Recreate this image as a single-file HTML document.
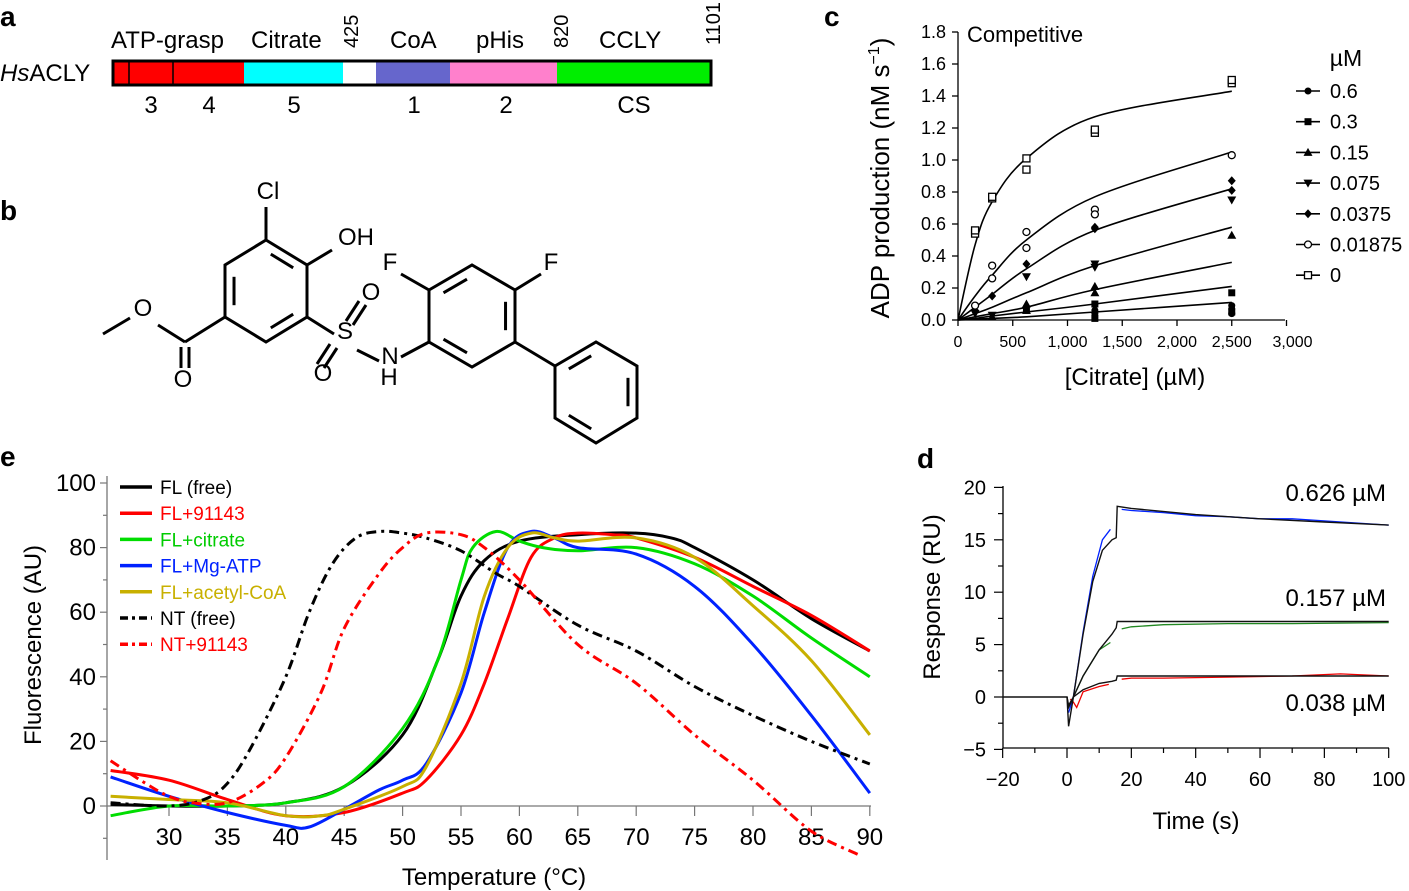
<!DOCTYPE html>
<html><head><meta charset="utf-8"><style>
html,body{margin:0;padding:0;background:#fff}
svg{display:block;font-family:"Liberation Sans",Arial,sans-serif}
</style></head><body>
<svg id="fig" width="1409" height="891" viewBox="0 0 1409 891" xmlns="http://www.w3.org/2000/svg">
<g font-weight="bold" font-size="28">
<text x="0" y="26">a</text>
<text x="0" y="220">b</text>
<text x="824" y="26">c</text>
<text x="0" y="466">e</text>
<text x="917" y="468">d</text>
</g>
<g id="pa" font-size="24">
<text x="0" y="81"><tspan font-style="italic">Hs</tspan>ACLY</text>
<rect x="113" y="61" width="131" height="24" fill="#ff0000"/>
<rect x="244" y="61" width="99" height="24" fill="#00ffff"/>
<rect x="343" y="61" width="33" height="24" fill="#ffffff"/>
<rect x="376" y="61" width="74" height="24" fill="#6666cc"/>
<rect x="450" y="61" width="107" height="24" fill="#ff80cc"/>
<rect x="557" y="61" width="154" height="24" fill="#00ee00"/>
<line x1="129" y1="61" x2="129" y2="85" stroke="#000" stroke-width="1.5"/>
<line x1="173" y1="61" x2="173" y2="85" stroke="#000" stroke-width="1.5"/>
<rect x="113" y="61" width="598" height="24" fill="none" stroke="#000" stroke-width="3"/>
<text x="111" y="48">ATP-grasp</text>
<text x="251" y="48">Citrate</text>
<text x="390" y="48">CoA</text>
<text x="476" y="48">pHis</text>
<text x="599" y="48">CCLY</text>
<text transform="translate(358,48) rotate(-90)" font-size="20">425</text>
<text transform="translate(568,48) rotate(-90)" font-size="20">820</text>
<text transform="translate(720,45) rotate(-90)" font-size="20">1101</text>
<g text-anchor="middle">
<text x="151" y="113">3</text>
<text x="209" y="113">4</text>
<text x="294" y="113">5</text>
<text x="414" y="113">1</text>
<text x="506" y="113">2</text>
<text x="634" y="113">CS</text>
</g>
</g>
<g id="pb" stroke="#000" stroke-width="3" fill="none"></g>
<g id="pbt" font-size="24" text-anchor="middle">
<text x="268" y="199">Cl</text>
<text x="356" y="245">OH</text>
<text x="143" y="316">O</text>
<text x="183" y="387">O</text>
<text x="345" y="339">S</text>
<text x="371" y="300">O</text>
<text x="323" y="381">O</text>
<text x="390" y="364">N</text>
<text x="389" y="385">H</text>
<text x="390" y="270">F</text>
<text x="551" y="270">F</text>
</g>
<g id="pc"></g>
<g id="pd"></g>
<g id="pe"></g>
</svg>
<script>
const NS='http://www.w3.org/2000/svg';
function mk(parent,tag,attrs,txt){const e=document.createElementNS(NS,tag);for(const k in attrs)e.setAttribute(k,attrs[k]);if(txt!==undefined)e.textContent=txt;parent.appendChild(e);return e;}
function smooth(pts){let d='M'+pts[0][0].toFixed(1)+','+pts[0][1].toFixed(1);for(let i=0;i<pts.length-1;i++){const p0=pts[Math.max(0,i-1)],p1=pts[i],p2=pts[i+1],p3=pts[Math.min(pts.length-1,i+2)];const c1=[p1[0]+(p2[0]-p0[0])/6,p1[1]+(p2[1]-p0[1])/6],c2=[p2[0]-(p3[0]-p1[0])/6,p2[1]-(p3[1]-p1[1])/6];d+='C'+c1[0].toFixed(1)+','+c1[1].toFixed(1)+' '+c2[0].toFixed(1)+','+c2[1].toFixed(1)+' '+p2[0].toFixed(1)+','+p2[1].toFixed(1);}return d;}
function poly(pts){return 'M'+pts.map(p=>p[0].toFixed(1)+','+p[1].toFixed(1)).join('L');}

/* ---------- panel b structure ---------- */
const gb=document.getElementById('pb');
function ring(pts,dbl){const cx=pts.reduce((s,p)=>s+p[0],0)/6,cy=pts.reduce((s,p)=>s+p[1],0)/6;
 const r=mk(gb,'path',{d:poly(pts)+'Z'});
 
 
 dbl.forEach(i=>{const a=pts[i],b=pts[(i+1)%6];const f=0.78;const A=[cx+(a[0]-cx)*f,cy+(a[1]-cy)*f],B=[cx+(b[0]-cx)*f,cy+(b[1]-cy)*f];const s=0.15;
  const l=mk(gb,'line',{x1:A[0]+(B[0]-A[0])*s,y1:A[1]+(B[1]-A[1])*s,x2:B[0]-(B[0]-A[0])*s,y2:B[1]-(B[1]-A[1])*s});
  
  });}
ring([[266,240],[307,265],[307,317],[266,342],[225,317],[225,265]],[0,2,4]);
ring([[429,290],[472,265],[515,290],[515,342],[472,367],[429,342]],[0,2,4]);
ring([[555,366],[596,342],[637,366],[637,418],[596,443],[555,418]],[0,2,4]);
[[266,240,266,207],[307,265,332,250],[225,317,185,342],[185,342,158,325],[130,318,103,334],[307,317,334,334],[357,350,379,361],[401,357,429,342],[429,290,401,274],[515,290,541,274],[515,342,555,366],
 [181,347,181,368],[189,347,189,368],[346,321,359,301],[353,325,366,305],[330,344,317,364],[337,348,324,368]].forEach(b=>{
 const l=mk(gb,'line',{x1:b[0],y1:b[1],x2:b[2],y2:b[3]});
 
 });

/* ---------- panel c ---------- */
const cConc=[0,156,312,625,1250,2500];
const cLabels=['0.6','0.3','0.15','0.075','0.0375','0.01875','0'];
const cFit06=[0,0.005,0.01,0.02,0.05,0.11];
const cFit03=[0,0.01,0.025,0.05,0.1,0.21];
const cFit015=[0,0.02,0.04,0.08,0.19,0.36];
const cFit0075=[0,0.04,0.08,0.17,0.34,0.58];
const cFit00375=[0,0.08,0.16,0.32,0.56,0.82];
const cFit001875=[0,0.15,0.28,0.5,0.77,1.05];
const cFit0=[0,0.47,0.74,1.01,1.27,1.43];
const cPts06=[[1250,0.06],[1250,0.04],[2500,0.07],[2500,0.04],[2500,0.09]];
const cPts03=[[625,0.06],[1250,0.1],[1250,0.01],[2500,0.17],[2500,0.05]];
const cPts015=[[312,0.02],[625,0.1],[625,0.06],[1250,0.21],[1250,0.17],[2500,0.53]];
const cPts0075=[[156,0.04],[312,0.03],[625,0.27],[1250,0.33],[1250,0.35],[2500,0.75]];
const cPts00375=[[156,0.06],[312,0.15],[625,0.35],[1250,0.58],[1250,0.57],[2500,0.87],[2500,0.81]];
const cPts001875=[[156,0.09],[312,0.34],[312,0.26],[625,0.55],[625,0.45],[1250,0.69],[1250,0.66],[2500,1.03]];
const cPts0=[[156,0.54],[156,0.56],[312,0.76],[312,0.77],[625,1.01],[625,0.94],[1250,1.17],[1250,1.19],[2500,1.48],[2500,1.5]];
const cYTicks=[0,0.2,0.4,0.6,0.8,1.0,1.2,1.4,1.6,1.8];
const cXTicks=[0,500,1000,1500,2000,2500,3000];
const cXTickLabels=['0','500','1,000','1,500','2,000','2,500','3,000'];
const cx=c=>958+c*0.1095, cy=v=>320-v*160;
const gc=document.getElementById('pc');
function marker(g,type,x,y){let e;
 if(type==='fcircle')e=mk(g,'circle',{cx:x,cy:y,r:3.5,fill:'#000'});
 else if(type==='ocircle')e=mk(g,'circle',{cx:x,cy:y,r:3.5,fill:'#fff',stroke:'#000','stroke-width':1.3});
 else if(type==='fsquare')e=mk(g,'rect',{x:x-3.5,y:y-3.5,width:7,height:7,fill:'#000'});
 else if(type==='osquare')e=mk(g,'rect',{x:x-3.5,y:y-3.5,width:7,height:7,fill:'#fff',stroke:'#000','stroke-width':1.3});
 else if(type==='tup')e=mk(g,'path',{d:`M${x},${y-4.5}L${x+4.5},${y+3.5}L${x-4.5},${y+3.5}Z`,fill:'#000'});
 else if(type==='tdown')e=mk(g,'path',{d:`M${x},${y+4.5}L${x+4.5},${y-3.5}L${x-4.5},${y-3.5}Z`,fill:'#000'});
 else e=mk(g,'path',{d:`M${x},${y-4.5}L${x+4},${y}L${x},${y+4.5}L${x-4},${y}Z`,fill:'#000'});
 return e;}
mk(gc,'line',{x1:958,y1:320,x2:958,y2:32,stroke:'#000','stroke-width':1.3});
mk(gc,'line',{x1:958,y1:320,x2:1285,y2:320,stroke:'#000','stroke-width':1.3});
cYTicks.forEach(v=>{mk(gc,'line',{x1:952,y1:cy(v),x2:958,y2:cy(v),stroke:'#000','stroke-width':1.3});
 const t=mk(gc,'text',{x:946,y:cy(v)+6,'font-size':18,'text-anchor':'end'},v.toFixed(1));
 
 });
cXTicks.forEach((c,i)=>{mk(gc,'line',{x1:cx(c),y1:320,x2:cx(c),y2:326,stroke:'#000','stroke-width':1.3});
 const t=mk(gc,'text',{x:cx(c)+(i===6?6:0),y:347,'font-size':16,'text-anchor':'middle'},cXTickLabels[i]);
 
 });
const cFits=[cFit06,cFit03,cFit015,cFit0075,cFit00375,cFit001875,cFit0];
const cPts=[cPts06,cPts03,cPts015,cPts0075,cPts00375,cPts001875,cPts0];
const cMk=['fcircle','fsquare','tup','tdown','diamond','ocircle','osquare'];
cFits.forEach((f,i)=>{const p=mk(gc,'path',{d:smooth(cConc.map((c,j)=>[cx(c),cy(f[j])])),fill:'none',stroke:'#000','stroke-width':1.6});
 
 });
cPts.forEach((s,i)=>s.forEach(pt=>{const m=marker(gc,cMk[i],cx(pt[0]),cy(pt[1]));
 
 }));
let t=mk(gc,'text',{x:967,y:42,'font-size':22},'Competitive');


t=mk(gc,'text',{x:1346,y:66,'font-size':23,'text-anchor':'middle'},'µM');


cLabels.forEach((l,i)=>{const y=91+i*30.7;
 mk(gc,'line',{x1:1296,y1:y,x2:1320,y2:y,stroke:'#000','stroke-width':1.6});
 const m=marker(gc,cMk[i],1308,y);
 
 
 const tt=mk(gc,'text',{x:1330,y:y+7,'font-size':20},l);
 
 });
t=mk(gc,'text',{transform:'translate(889,178) rotate(-90)','font-size':26,'text-anchor':'middle'});
t.innerHTML='ADP production (nM s<tspan dy="-10" font-size="16">−1</tspan><tspan dy="10">)</tspan>';


t=mk(gc,'text',{x:1135,y:385,'font-size':24,'text-anchor':'middle'},'[Citrate] (µM)');



/* ---------- panel d ---------- */
const dFitHighT=[-20,0,0.5,2,5,8,11,14,15.3,15.6,20,40,60,80,100];
const dFitHighR=[0,0,-2.8,0,6,11,14,15,15.2,18.2,18,17.4,17,16.7,16.4];
const dDataHighT=[0.5,2,5,8,11,13.5,17,20,30,40,50,60,70,80,90,100];
const dDataHighR=[-1.5,0,6.2,11.5,15,16,17.9,17.8,17.6,17.3,17.2,17.0,17.0,16.8,16.6,16.4];
const dFitMidT=[0,0.5,2,5,10,14,15.3,15.6,100];
const dFitMidR=[0,-1,0,2,4.5,6,6.6,7.2,7.2];
const dDataMidT=[2,5,10,13.5,17,20,30,50,70,100];
const dDataMidR=[0,2,4.5,5.2,6.5,6.7,6.9,7.0,7.0,7.1];
const dFitLowT=[0,0.5,2,5,10,14,15.3,15.6,100];
const dFitLowR=[0,-0.8,0,0.7,1.3,1.5,1.6,2.0,2.0];
const dDataLowT=[1,2,3,5,10,13,17,20,30,50,70,85,100];
const dDataLowR=[-0.2,-0.5,-1.0,0.5,1.0,1.2,1.7,1.8,1.8,1.9,2.0,2.2,2.0];
const dYTicks=[-5,0,5,10,15,20];
const dXTicks=[-20,0,20,40,60,80,100];
const dConcLabels=['0.626 µM','0.157 µM','0.038 µM'];
const dConcLabelY=[501,606,711];
const dx=s=>1067+s*3.217, dy=r=>697-r*10.48;
const gd=document.getElementById('pd');
mk(gd,'line',{x1:1003,y1:486,x2:1003,y2:748,stroke:'#000','stroke-width':1.3});
mk(gd,'line',{x1:1003,y1:748,x2:1389,y2:748,stroke:'#000','stroke-width':1.3});
for(let v=-5;v<=20;v+=2.5)mk(gd,'line',{x1:v%5===0?994:998,y1:dy(v),x2:1003,y2:dy(v),stroke:'#000','stroke-width':1.2});
for(let s=-20;s<=100;s+=10)mk(gd,'line',{x1:dx(s),y1:748,x2:dx(s),y2:s%20===0?758:753,stroke:'#000','stroke-width':1.2});
dYTicks.forEach(v=>{const tt=mk(gd,'text',{x:986,y:dy(v)+7,'font-size':20,'text-anchor':'end'},(v<0?'−':'')+Math.abs(v));
 
 });
dXTicks.forEach(s=>{const tt=mk(gd,'text',{x:dx(s),y:786,'font-size':20,'text-anchor':'middle'},(s<0?'−':'')+Math.abs(s));
 
 });
function dline(T,R,col,w,name){const p=mk(gd,'path',{d:poly(T.map((s,i)=>[dx(s),dy(R[i])])),fill:'none',stroke:col,'stroke-width':w});
 
 }
dline(dDataHighT.slice(0,6),dDataHighR.slice(0,6),'#0022ff',1.3,'data-0626-association');
dline(dDataHighT.slice(6),dDataHighR.slice(6),'#0022ff',1.3,'data-0626-dissociation');
dline(dDataMidT.slice(0,4),dDataMidR.slice(0,4),'#228822',1.3,'data-0157-association');
dline(dDataMidT.slice(4),dDataMidR.slice(4),'#228822',1.3,'data-0157-dissociation');
dline(dDataLowT.slice(0,6),dDataLowR.slice(0,6),'#ee0000',1.3,'data-0038-association');
dline(dDataLowT.slice(6),dDataLowR.slice(6),'#ee0000',1.3,'data-0038-dissociation');
dline(dFitHighT,dFitHighR,'#111',1.4,'fit-0626');
dline(dFitMidT,dFitMidR,'#111',1.4,'fit-0157');
dline(dFitLowT,dFitLowR,'#111',1.4,'fit-0038');
dConcLabels.forEach((l,i)=>{const tt=mk(gd,'text',{x:1386,y:dConcLabelY[i],'font-size':24,'text-anchor':'end'},l);
 
 });
t=mk(gd,'text',{transform:'translate(940,597) rotate(-90)','font-size':24,'text-anchor':'middle'},'Response (RU)');


t=mk(gd,'text',{x:1196,y:829,'font-size':24,'text-anchor':'middle'},'Time (s)');



/* ---------- panel e ---------- */
const eNames=['FL (free)','FL+91143','FL+citrate','FL+Mg-ATP','FL+acetyl-CoA','NT (free)','NT+91143'];
const eFLfreeT=[25,30,35,40,45,50,53,55,57,60,65,70,73,75,80,85,90];
const eFLfreeV=[0.5,0,0,1,6,22,45,65,76,82,84,84.5,83,80,70,58,48];
const eFL91143T=[25,30,35,40,45,50,52,55,57,59,61,63,65,68,70,75,80,85,90];
const eFL91143V=[11,8,2,-3,-2,4,8,22,38,58,77,83,84.5,84,83,77,68,59,48];
const eCitrateT=[25,30,35,40,45,50,53,55,56,58,60,62,65,70,75,80,85,90];
const eCitrateV=[-3,0,0,1,6,24,45,70,80,85,82,80,79,80,75,65,52,40];
const eATPT=[25,30,35,40,42,45,48,50,52,55,57,59,61,63,65,70,75,80,85,90];
const eATPV=[9,3,-2,-6,-6.5,-1,5,8,13,35,60,80,85,83,80,78,68,50,28,4];
const eAcCoAT=[25,30,35,40,43,45,50,52,55,57,59,61,63,65,70,75,80,85,90];
const eAcCoAV=[3,2,1,-3,-3,-1,6,12,38,65,80,84.5,83,82,83,77,62,45,22];
const eNTfreeT=[25,30,33,35,37,40,42,44,46,48,50,52,55,58,60,65,70,75,80,85,90];
const eNTfreeV=[1,0,2,7,18,40,60,75,83,85,84.5,83,79,72,68,56,48,37,28,20,13];
const eNT91143T=[25,28,30,32,35,38,40,43,45,48,50,52,55,57,60,65,70,75,80,84,86,89];
const eNT91143V=[14,7,3,1,1,7,15,35,55,72,80,84.5,84,80,70,50,38,22,8,-5,-10,-15];
const eYTicks=[0,20,40,60,80,100];
const eXTicks=[30,35,40,45,50,55,60,65,70,75,80,85,90];
const ex=T=>169+(T-30)*11.68, ey=v=>806-v*3.23;
const ge=document.getElementById('pe');
mk(ge,'line',{x1:107,y1:476,x2:107,y2:860,stroke:'#777','stroke-width':1.3});
mk(ge,'line',{x1:107,y1:806,x2:871,y2:806,stroke:'#777','stroke-width':1.3});
for(let v=-10;v<=100;v+=10)mk(ge,'line',{x1:v%20===0?100:103,y1:ey(v),x2:107,y2:ey(v),stroke:'#777','stroke-width':1.2});
eXTicks.forEach(T=>{mk(ge,'line',{x1:ex(T),y1:806,x2:ex(T),y2:816,stroke:'#777','stroke-width':1.2});
 const tt=mk(ge,'text',{x:ex(T),y:845,'font-size':24,'text-anchor':'middle'},String(T));
 
 });
eYTicks.forEach(v=>{const tt=mk(ge,'text',{x:96,y:ey(v)+8,'font-size':24,'text-anchor':'end'},String(v));
 
 });
const eT=[eFLfreeT,eFL91143T,eCitrateT,eATPT,eAcCoAT,eNTfreeT,eNT91143T];
const eV=[eFLfreeV,eFL91143V,eCitrateV,eATPV,eAcCoAV,eNTfreeV,eNT91143V];
const eCol=['#000','#ff0000','#00dd00','#0022ff','#c8b000','#000','#ff0000'];
const eTxtCol=['#000','#ff0000','#00cc00','#0022ff','#c8b000','#000','#ff0000'];
const eDash=[null,null,null,null,null,'10,5,3,5','10,5,3,5'];
eT.forEach((T,i)=>{const a={d:smooth(T.map((x,j)=>[ex(x),ey(eV[i][j])])),fill:'none',stroke:eCol[i],'stroke-width':3};
 if(eDash[i])a['stroke-dasharray']=eDash[i];
 const p=mk(ge,'path',a);
 
 });
eNames.forEach((n,i)=>{const y=487+i*26.2;
 const a={x1:120,y1:y,x2:152,y2:y,stroke:eCol[i],'stroke-width':3.5};
 if(eDash[i])a['stroke-dasharray']='8,4,3,4';
 mk(ge,'line',a);
 const tt=mk(ge,'text',{x:160,y:y+7,'font-size':19,fill:eTxtCol[i]},n);
 
 });
t=mk(ge,'text',{transform:'translate(41,645) rotate(-90)','font-size':24,'text-anchor':'middle'},'Fluorescence (AU)');


t=mk(ge,'text',{x:494,y:885,'font-size':24,'text-anchor':'middle'},'Temperature (°C)');


</script>
</body></html>
